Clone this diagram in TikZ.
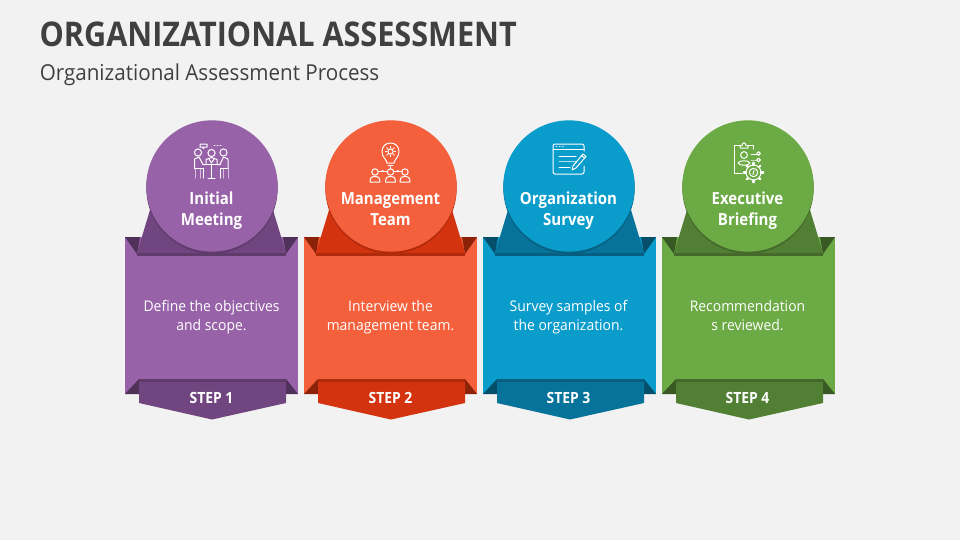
\documentclass[tikz,border=0pt]{standalone}
\usepackage{fontspec}
\setmainfont{Open Sans}
\newfontfamily\titlefont[FakeStretch=0.9]{Open Sans}
\newfontfamily\subfont[FakeStretch=0.94]{Open Sans}
\newfontfamily\bodyfont[FakeStretch=0.95]{Open Sans}
\usetikzlibrary{calc}
\definecolor{bgc}{HTML}{F2F2F2}
\definecolor{ink}{HTML}{404040}
\definecolor{pa}{HTML}{9762A8}\definecolor{pb}{HTML}{714680}\definecolor{pc}{HTML}{4F3159}\definecolor{pd}{HTML}{5F3B6C}
\definecolor{oa}{HTML}{F45F3C}\definecolor{ob}{HTML}{D4330F}\definecolor{oc}{HTML}{8C2208}\definecolor{od}{HTML}{B02A0C}
\definecolor{ba}{HTML}{0A9DCB}\definecolor{bb}{HTML}{07729A}\definecolor{bc}{HTML}{054F6B}\definecolor{bd}{HTML}{065F80}
\definecolor{ga}{HTML}{6CAA45}\definecolor{gb}{HTML}{517F34}\definecolor{gc}{HTML}{385824}\definecolor{gd}{HTML}{44692B}
\tikzset{
 x=0.75pt,y=-0.75pt,
 titletext/.style={anchor=west,text=ink,font=\fontsize{25.5}{30}\titlefont\bfseries,inner sep=0pt},
 subtext/.style={anchor=west,text=ink,font=\fontsize{16.45}{18}\subfont,inner sep=0pt},
 headtext/.style={text=white,align=center,font=\fontsize{12.5}{15.75}\titlefont\bfseries,inner sep=0pt},
 bodytext/.style={text=white,align=center,font=\fontsize{11}{14.4}\bodyfont,inner sep=0pt},
 steptext/.style={text=white,font=\fontsize{11.6}{13}\titlefont\bfseries,inner sep=0pt},
 icon/.style={draw=white,line width=0.75pt,fill=none,line cap=round,line join=round},
}
\newcommand{\cx}{87}
\newcommand{\stepcard}[9]{% x-left, main, dark, deep, band, head, body, step, id
 \begin{scope}[shift={(#1,0)}]
 \fill[#2] (0,237) rectangle (173,394);
 \fill[#4] (0,237) -- (15,237) -- (12,254) -- cycle;
 \fill[#4] (173,237) -- (158,237) -- (161,254) -- cycle;
 \fill[#3] (25,210) -- (148,210) -- (161,253) -- (12,253) -- cycle;
 \fill[#5] (12,253) rectangle (161,256);
 \fill[#4] (0,394) -- (14,379) -- (14,394) -- cycle;
 \fill[#4] (173,394) -- (161,379) -- (161,394) -- cycle;
 \fill[#5] (14,379) rectangle (161,382);
 \fill[#3] (14,382) -- (161,382) -- (161,403) -- (87,419.5) -- (14,403) -- cycle;
 \fill[#5] (\cx,188) circle (65.7);
 \node[circle,fill=#2,minimum size=98.5pt,inner sep=0pt] (circ#9) at (\cx,186) {};
 \node[headtext] (head#9) at (\cx-0.5,210.5) {\strut#6\strut};
 \node[bodytext] (body#9) at (\cx-0.5,317.5) {\strut#7\strut};
 \node[steptext] (step#9) at (\cx-0.5,398) {#8};
 \end{scope}
}
\begin{document}
\begin{tikzpicture}
\useasboundingbox (0,0) rectangle (960,540);
\fill[bgc] (0,0) rectangle (960,540);
\node[titletext] (title) at (39.3,34) {ORGANIZATIONAL ASSESSMENT};
\node[subtext] (sub) at (39.5,75) {Organizational Assessment Process};
\stepcard{125}{pa}{pb}{pc}{pd}{Initial\\Meeting}{Define the objectives\\and scope.}{STEP 1}{a}
\stepcard{304}{oa}{ob}{oc}{od}{Management\\Team}{Interview the\\management team.}{STEP 2}{b}
\renewcommand{\cx}{86}
\stepcard{483}{ba}{bb}{bc}{bd}{Organization\\Survey}{Survey samples of\\the organization.}{STEP 3}{c}
\stepcard{662}{ga}{gb}{gc}{gd}{Executive\\Briefing}{Recommendation\\s reviewed.}{STEP 4}{d}
% icon 1: meeting
\begin{scope}[icon,shift={(180,130)}]
 \draw (20,14) rectangle (27,17) (22.5,17) -- (23.5,18.5) -- (24.5,17);
 \draw (34,15) -- (35,15) (37,15) -- (38,15) (40,15) -- (41,15);
 \draw (18,22.5) circle (3.6) (31.5,23) circle (3.6) (43.5,22.5) circle (3.6);
 \draw (14.5,38.5) -- (14.5,29) -- (19,27) -- (23,34.5) -- (26,34.5);
 \draw (48,38.5) -- (48,29) -- (43.5,27) -- (40,34.5) -- (37,34.5);
 \draw (26,34.5) -- (26,29.5) -- (31.5,27.5) -- (37,29.5) -- (37,34.5);
 \draw (29,29) -- (31.5,33) -- (34,29);
 \draw (23,34.5) -- (40,34.5) (31.5,34.5) -- (31.5,48) (28,48) -- (35,48);
 \draw (14.5,38.5) -- (23,38.5) -- (23,48) (48,38.5) -- (40,38.5) -- (40,48);
 \draw[white!60!pa] (15,39) -- (15,48) (43,39) -- (43,48) (20,39) -- (20,48) (48,39) -- (48,48);
\end{scope}
% icon 2: bulb and team
\begin{scope}[icon,shift={(360,130)}]
 \draw (27,33) .. controls (26.5,29) and (22,27.5) .. (22,21.5) .. controls (22,16) and (26,13) .. (30.5,13) .. controls (35,13) and (39,16) .. (39,21.5) .. controls (39,27.5) and (34.5,29) .. (34,33) -- cycle;
 \draw (28,35.5) -- (33,35.5);
 \draw (30.5,21.5) circle (2.6);
 \foreach \a in {0,45,...,315} \draw ($(30.5,21.5)+(\a:3.6)$) -- ($(30.5,21.5)+(\a:5.2)$);
 \draw (15,42) circle (3.2) (30.5,42) circle (3.2) (45,42) circle (3.2);
 \draw (10,52) .. controls (10,47.5) and (12,46.5) .. (13.5,46.5) -- (16.5,46.5) .. controls (18,46.5) and (20,47.5) .. (20,52) -- cycle;
 \draw (25.5,52) .. controls (25.5,47.5) and (27.5,46.5) .. (29,46.5) -- (32,46.5) .. controls (33.5,46.5) and (35.5,47.5) .. (35.5,52) -- cycle;
 \draw (40,52) .. controls (40,47.5) and (42,46.5) .. (43.5,46.5) -- (46.5,46.5) .. controls (48,46.5) and (50,47.5) .. (50,52) -- cycle;
 \draw (18.5,41) -- (27,41) (34,41) -- (41.5,41) (30.5,35.5) -- (30.5,38.8);
 \fill[white] (22.5,41) circle (1.1) (37.7,41) circle (1.1);
\end{scope}
% icon 3: survey window
\begin{scope}[icon,shift={(540,130)}]
 \draw[rounded corners=1.5pt] (44,36) -- (44,44) -- (13,44) -- (13,14) -- (44,14) -- (44,21);
 \draw (13,19.5) -- (44,19.5);
 \draw (16,16.8) -- (16.5,16.8) (19.5,16.8) -- (20,16.8) (22.5,16.8) -- (23,16.8);
 \draw (19,26.5) -- (36,26.5) (19,37) -- (30,37);
 \draw[white!65!ba] (19,31.5) -- (36,31.5);
 \draw (33,36) -- (43,24) -- (46,26.5) -- (36,38) -- (32,40) -- cycle;
 \draw (41.5,25.5) -- (44.5,28);
\end{scope}
% icon 4: clipboard and gear
\begin{scope}[icon,shift={(720,130)}]
 \draw (20,15.5) -- (14.5,15.5) -- (14.5,43.5) -- (22,43.5);
 \draw (28,15.5) -- (33,15.5) -- (33,19);
 \draw (20,18) -- (28,18) -- (28,15.5) -- (26,15.5) .. controls (26,12) and (22,12) .. (22,15.5) -- (20,15.5) -- cycle;
 \draw (24,25) circle (3.4);
 \draw (18,33) .. controls (19,30) and (29,30) .. (30,33) .. controls (29,36) and (19,36) .. (18,33);
 \draw (31,24) -- (36.5,24);
 \draw[white!60!ga] (31,30) -- (36.5,30);
 \draw (38.5,23.5) circle (1.9) (38.5,30) circle (1.9);
 \draw (33.5,42.5) circle (7.5) (33.5,42.5) circle (4.2);
 \foreach \a in {0,45,...,315} \draw[line width=1.6pt] ($(33.5,42.5)+(\a:7.8)$) -- ($(33.5,42.5)+(\a:9.8)$);
 \draw (34,40.5) -- (33,44.5);
\end{scope}
\end{tikzpicture}
\end{document}
